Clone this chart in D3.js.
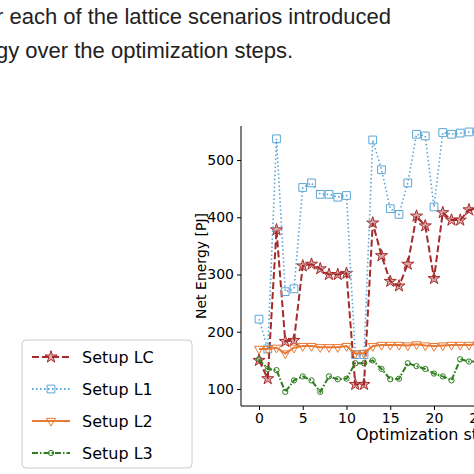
<!DOCTYPE html><html><head><script src="https://cdnjs.cloudflare.com/ajax/libs/d3/7.8.5/d3.min.js"></script>
<style>body{margin:0;background:#fff}text{font-family:"DejaVu Sans",sans-serif}</style></head><body><svg id="c" width="474" height="474"></svg>
<script>
const steps=d3.range(0,26);
const LC=[150,118,378,183,185,315,318,310,300,300,302,108,108,390,333,288,280,318,402,385,293,408,395,395,413,412];
const L1=[222,170,537,270,275,452,460,440,440,435,438,160,160,535,483,415,405,460,545,542,418,548,545,547,549,550];
const L2=[170,170,172,162,172,175,175,173,173,173,175,162,163,175,177,177,177,176,178,176,175,176,177,177,177,178];
const L3=[152,135,133,95,115,122,115,95,122,117,118,145,145,150,135,117,118,145,140,135,127,122,115,152,148,148];
const xTicks=[0,5,10,15,20,25], yTicks=[100,200,300,400,500];
const series=[
 {name:"Setup LC",v:LC,c:"#a52a2a",dash:"7,3",m:"star"},
 {name:"Setup L1",v:L1,c:"#5aa6d6",dash:"1.5,2.5",m:"square"},
 {name:"Setup L2",v:L2,c:"#e87a35",dash:null,m:"tri"},
 {name:"Setup L3",v:L3,c:"#2e7d1e",dash:"6,2,1.5,2",m:"circle"}];
const svg=d3.select("#c");
svg.append("text").attr("x",-4).attr("y",24).attr("font-size",22).attr("fill","#222").style("font-family","Liberation Sans, Arial").text("r each of the lattice scenarios introduced");
svg.append("text").attr("x",-4).attr("y",58).attr("font-size",22).attr("fill","#222").style("font-family","Liberation Sans, Arial").text("gy over the optimization steps.");
const x=d3.scaleLinear().domain([0,20]).range([259,434]);
const y=d3.scaleLinear().domain([100,500]).range([389,160]);
const L=241,B=406,T=126;
svg.append("defs").append("clipPath").attr("id","cp").append("rect").attr("x",L).attr("y",T).attr("width",480-L).attr("height",B-T);
const g=svg.append("g").attr("clip-path","url(#cp)");
const sym={star:d3.symbolStar,square:d3.symbolSquare,tri:d3.symbolTriangle,circle:d3.symbolCircle};
const size={star:45,square:60,tri:35,circle:22};
series.forEach(s=>{
 const line=d3.line().x((d,i)=>x(steps[i])).y(d=>y(d));
 g.append("path").attr("d",line(s.v)).attr("fill","none").attr("stroke",s.c).attr("stroke-width",s.m=="square"?1.6:2).attr("stroke-dasharray",s.dash);
 g.selectAll(null).data(s.v).join("path").attr("transform",(d,i)=>`translate(${x(steps[i])},${y(d)})`+(s.m=="tri"?" rotate(180)":""))
  .attr("d",d3.symbol().type(sym[s.m]).size(size[s.m])).attr("fill",s.m=="star"?s.c:"none").attr("fill-opacity",s.m=="star"?0.4:1).attr("stroke",s.c).attr("stroke-width",1);
});
svg.append("g").attr("transform",`translate(0,${B})`).call(d3.axisBottom(x).tickValues(xTicks).tickSize(4)).call(a=>{a.select(".domain").attr("d",`M${L},0H480`);a.selectAll("text").attr("font-size",14).attr("fill","#000");});
svg.append("g").attr("transform",`translate(${L},0)`).call(d3.axisLeft(y).tickValues(yTicks).tickSize(4)).call(a=>{a.select(".domain").attr("d",`M0,${T}V${B}`);a.selectAll("text").attr("font-size",14).attr("fill","#000");});
svg.append("text").attr("x",356).attr("y",440).attr("font-size",16).text("Optimization steps");
svg.append("text").attr("transform","translate(206,266) rotate(-90)").attr("text-anchor","middle").attr("font-size",14).text("Net Energy [PJ]");
const lg=svg.append("g");
lg.append("rect").attr("x",22).attr("y",340).attr("width",170).attr("height",128).attr("rx",4).attr("fill","#fff").attr("stroke","#ccc");
series.forEach((s,i)=>{const yy=357+i*32;
 lg.append("line").attr("x1",32).attr("x2",70).attr("y1",yy).attr("y2",yy).attr("stroke",s.c).attr("stroke-width",2).attr("stroke-dasharray",s.dash);
 lg.append("path").attr("transform",`translate(51,${yy})`+(s.m=="tri"?" rotate(180)":"")).attr("d",d3.symbol().type(sym[s.m]).size(size[s.m])).attr("fill",s.m=="star"?s.c:"none").attr("fill-opacity",s.m=="star"?0.4:1).attr("stroke",s.c);
 lg.append("text").attr("x",82).attr("y",yy+6).attr("font-size",16).text(s.name);});
</script></body></html>
